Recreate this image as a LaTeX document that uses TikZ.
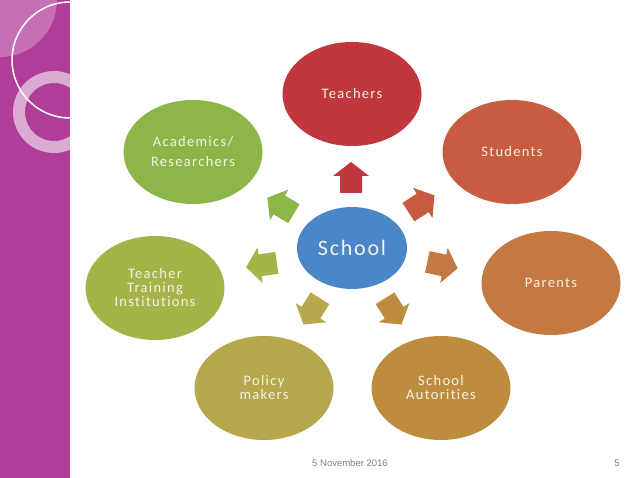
\documentclass[tikz,border=0pt]{standalone}
\usepackage{fontspec}
\setmainfont{Carlito}
\newfontfamily\footfont{Liberation Sans}
\usetikzlibrary{shapes.geometric}
\definecolor{barpurple}{RGB}{176,62,152}
\definecolor{barlight}{RGB}{198,110,182}
\definecolor{ringpink}{RGB}{218,172,212}
\definecolor{cTeach}{RGB}{192,56,62}
\definecolor{cStud}{RGB}{199,92,64}
\definecolor{cPar}{RGB}{196,120,66}
\definecolor{cAuth}{RGB}{190,140,62}
\definecolor{cPol}{RGB}{182,168,76}
\definecolor{cTrain}{RGB}{164,180,72}
\definecolor{cAcad}{RGB}{140,182,72}
\definecolor{cSchool}{RGB}{74,134,200}
\definecolor{txt}{RGB}{244,242,230}
\definecolor{footgray}{RGB}{128,128,128}
\newcommand\blkarrow[4]{%
  \fill[#4, shift={(#1,#2)}, rotate=#3] (-15,-11) -- (2,-11) -- (2,-18) -- (16,0) -- (2,18) -- (2,11) -- (-15,11) -- cycle;}
\begin{document}
\begin{tikzpicture}[x=1pt,y=-1pt,
  bubble/.style={ellipse, minimum width=139pt, minimum height=104pt, inner sep=0pt,
    text=txt, align=center,
    font=\fontsize{14.5}{15}\selectfont\addfontfeatures{LetterSpace=9,Ligatures=NoCommon}},
  footer/.style={font=\footfont\fontsize{9.5}{11}\selectfont, text=footgray}]
\useasboundingbox (0,0) rectangle (638,478);
\fill[white] (0,0) rectangle (638,478);
\fill[barpurple] (0,0) rectangle (70,478);
\begin{scope}
  \clip (0,0) rectangle (70,478);
  \fill[barlight] (0,0) circle (57);
  \draw[ringpink, line width=12pt] (54,112) circle (35);
  \draw[white, line width=1.5pt] (70,60) circle (58);
\end{scope}

\node[bubble, fill=cTeach] (teach) at (352,94) {Teachers};
\node[bubble, fill=cStud] (stud) at (512,152) {Students};
\node[bubble, fill=cPar] (par) at (551,283) {Parents};
\node[bubble, fill=cAuth] (auth) at (441,388) {School\\[-1pt]Autorities};
\node[bubble, fill=cPol] (pol) at (264,388) {Policy\\[-1pt]makers};
\node[bubble, fill=cTrain] (train) at (155,288) {Teacher\\[-1pt]Training\\[-1pt]Institutions};
\node[bubble, fill=cAcad] (acad) at (193,152) {Academics/\\[5pt]Researchers};
\node[ellipse, minimum width=110pt, minimum height=82pt, inner sep=0pt, fill=cSchool,
  text=txt, font=\fontsize{22}{24}\selectfont\addfontfeatures{LetterSpace=8}] (school) at (352,248) {School};

\blkarrow{351}{178}{90}{cTeach}
\blkarrow{421}{204}{33}{cStud}
\blkarrow{442}{265}{-12}{cPar}
\blkarrow{393}{311}{-58}{cAuth}
\blkarrow{312}{311}{238}{cPol}
\blkarrow{262}{265}{188}{cTrain}
\blkarrow{281}{206}{149}{cAcad}

\node[footer] (date) at (350,463) {5 November 2016};
\node[footer] (page) at (617,463) {5};
\end{tikzpicture}
\end{document}
